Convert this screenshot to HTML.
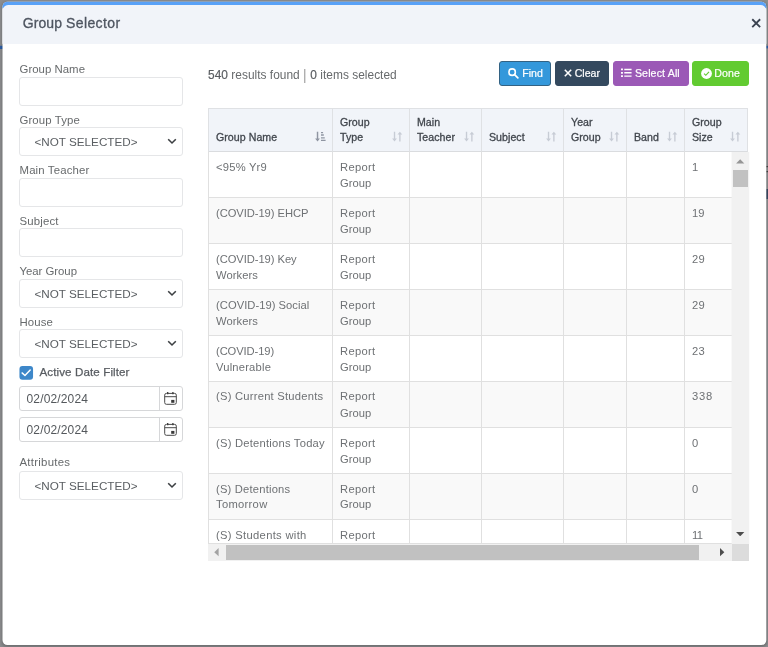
<!DOCTYPE html>
<html lang="en">
<head>
<meta charset="utf-8">
<title>Group Selector</title>
<style>
*{box-sizing:border-box;margin:0;padding:0}
html,body{width:768px;height:647px;overflow:hidden;background:#8c8d8f}
body{font-family:"Liberation Sans",sans-serif;color:#676a6c;position:relative;font-size:11.2px}
div,svg{position:absolute}
.sel span,.date span,.btn span,.hc span{position:absolute}
#title{left:22.8px;top:11px;font-size:14px;line-height:24px;color:#4e5560;letter-spacing:.06px;white-space:nowrap;-webkit-text-stroke:.3px #4e5560}
#close{left:750.5px;top:17.7px;width:10.4px;height:10.4px}
.lbl{left:19.5px;font-size:11.4px;line-height:14px;color:#676a6c;white-space:nowrap}
.inp{left:19px;width:164px;height:29px;border:1px solid #e5e6e8;border-radius:3px;background:#fff}
.sel span{left:14.5px;top:-.5px;line-height:27px;font-size:11.7px;color:#5a5e62;white-space:nowrap}
.chev{right:5.2px;top:10px}
.date{border-color:#d6d7d9;height:25px}
.date span{left:6.5px;top:.8px;line-height:23px;font-size:12px;color:#54585c;white-space:nowrap;letter-spacing:.15px}
.date i{position:absolute;left:139px;top:0;width:1px;height:23px;background:#d6d7d9}
.cal{left:144.2px;top:5.4px}
.btn{top:61px;height:25px;border-radius:3px;color:#fff;font-size:10.6px;line-height:23px;white-space:nowrap;border:1px solid transparent;-webkit-text-stroke:.2px #fff}
.btn span{top:0}
.hc{top:108px;height:44px;background:#f1f4f9;border:1px solid #dfe1e4;border-bottom-color:#dadcdf;border-left:none;color:#41464d;font-size:10.6px;line-height:15px;-webkit-text-stroke:.3px #41464d;letter-spacing:.05px}
.hc span{left:7px;bottom:6.5px;white-space:nowrap}
.sort{bottom:9.2px}
.row{left:209px;width:523px;height:46px;border-bottom:1px solid #e0e0e0;overflow:hidden}
.even{background:#f9f9f9}.odd{background:#fff}
.c{top:0;height:46px;border-right:1px solid #e0e0e0;padding:var(--p) 0 0 7px;font-size:11.2px;line-height:var(--l);color:#6e7174;white-space:nowrap;position:absolute}
.c i{font-style:normal}
</style>
</head>
<body>
<svg id="mbg" width="768" height="647" viewBox="0 0 768 647" style="left:0;top:0"><defs><filter id="sh" x="-5%" y="-5%" width="110%" height="110%"><feGaussianBlur stdDeviation="1.4"/></filter><clipPath id="mc"><rect x="2.5" y="1.8" width="763.8" height="643.3" rx="5" ry="5"/></clipPath></defs><rect x="0" y="45.8" width="3" height="3.2" fill="#2c5ea6"/><rect x="765" y="45.8" width="3" height="2.6" fill="#2c5ea6"/><rect x="766" y="166" width="2" height="1.2" fill="#444"/><rect x="766" y="171" width="2" height="1.2" fill="#444"/><rect x="766" y="189" width="2" height="10" fill="#3b4a63"/><rect x="1.8" y="2" width="765.2" height="645" rx="5" fill="#000" opacity=".22" filter="url(#sh)"/><g clip-path="url(#mc)"><rect x="0" y="0" width="768" height="647" fill="#fff"/><rect x="0" y="0" width="768" height="8.5" fill="#59a1f7"/><rect x="0" y="8.5" width="768" height="35.3" fill="#f1f4f9"/><path d="M2.5 43.8V10.6a5.6 5.6 0 0 1 5.6 -5.6H760.7a5.6 5.6 0 0 1 5.6 5.6V43.8z" fill="#f1f4f9"/></g></svg>
<div id="title">Group <i style="font-style:normal;letter-spacing:.4px">Selector</i></div>
<svg id="close" viewBox="0 0 10 10"><path d="M1.2 1.2L8.8 8.8M8.8 1.2L1.2 8.8" stroke="#3a4250" stroke-width="1.75" fill="none"/></svg>
<div class="lbl" style="top:62px;letter-spacing:0.03px">Group Name</div>
<div class="inp" style="top:77px"></div>
<div class="lbl" style="top:112.5px;letter-spacing:0.1px">Group Type</div>
<div class="inp sel" style="top:127px"><span>&lt;NOT SELECTED&gt;</span><svg class="chev" width="10" height="7" viewBox="0 0 10 7"><path d="M1.2 1.3L5 5L8.8 1.3" stroke="#3c3f42" stroke-width="1.6" fill="none"/></svg></div>
<div class="lbl" style="top:163px;letter-spacing:0.14px">Main Teacher</div>
<div class="inp" style="top:178px"></div>
<div class="lbl" style="top:213.5px;letter-spacing:0.16px">Subject</div>
<div class="inp" style="top:228px"></div>
<div class="lbl" style="top:264px;letter-spacing:-0.04px">Year Group</div>
<div class="inp sel" style="top:279px"><span>&lt;NOT SELECTED&gt;</span><svg class="chev" width="10" height="7" viewBox="0 0 10 7"><path d="M1.2 1.3L5 5L8.8 1.3" stroke="#3c3f42" stroke-width="1.6" fill="none"/></svg></div>
<div class="lbl" style="top:314.5px;letter-spacing:0.1px">House</div>
<div class="inp sel" style="top:329px"><span>&lt;NOT SELECTED&gt;</span><svg class="chev" width="10" height="7" viewBox="0 0 10 7"><path d="M1.2 1.3L5 5L8.8 1.3" stroke="#3c3f42" stroke-width="1.6" fill="none"/></svg></div>
<svg style="left:19px;top:366px" width="15" height="15" viewBox="0 0 15 15"><rect x="0.45" y="0.05" width="13.6" height="13.65" rx="3" fill="#3d87c9"/><path d="M3.1 6.9L5.95 9.5L11.2 4" stroke="#fff" stroke-width="1.45" fill="none" stroke-linecap="round" stroke-linejoin="round"/></svg>
<div class="lbl" style="left:39.5px;top:365.3px;color:#585c61;-webkit-text-stroke:.25px #585c61;font-size:11.6px;letter-spacing:.1px">Active Date Filter</div>
<div class="inp date" style="top:386px"><span>02/02/2024</span><i></i><svg class="cal" width="13" height="13" viewBox="0 0 13 13"><rect x="0.7" y="1.4" width="11.6" height="10.9" rx="1.7" fill="none" stroke="#4a4a4a" stroke-width="1"/><path d="M0.7 4.7h11.6" stroke="#4a4a4a" stroke-width="1"/><path d="M3.7 0.1v2.1M8.9 0.1v2.1" stroke="#3a3a3a" stroke-width="1.3"/><rect x="7.2" y="7.9" width="3.2" height="2.9" fill="#3a3a3a"/></svg></div>
<div class="inp date" style="top:417px"><span>02/02/2024</span><i></i><svg class="cal" width="13" height="13" viewBox="0 0 13 13"><rect x="0.7" y="1.4" width="11.6" height="10.9" rx="1.7" fill="none" stroke="#4a4a4a" stroke-width="1"/><path d="M0.7 4.7h11.6" stroke="#4a4a4a" stroke-width="1"/><path d="M3.7 0.1v2.1M8.9 0.1v2.1" stroke="#3a3a3a" stroke-width="1.3"/><rect x="7.2" y="7.9" width="3.2" height="2.9" fill="#3a3a3a"/></svg></div>
<div class="lbl" style="top:455.2px;letter-spacing:.27px">Attributes</div>
<div class="inp sel" style="top:471px"><span>&lt;NOT SELECTED&gt;</span><svg class="chev" width="10" height="7" viewBox="0 0 10 7"><path d="M1.2 1.3L5 5L8.8 1.3" stroke="#3c3f42" stroke-width="1.6" fill="none"/></svg></div>
<div style="left:208px;top:67px;font-size:11.9px;line-height:16px;white-space:nowrap;color:#676a6c;letter-spacing:.03px"><b style="font-weight:normal;color:#5a5e62;-webkit-text-stroke:.18px #5a5e62">540</b> results found<i style="font-style:normal;color:#8e8e8e;display:inline-block;transform:scaleY(1.22) translateY(-.3px);margin:0 3.9px 0 3.6px;letter-spacing:0">|</i><b style="font-weight:normal;color:#5a5e62;-webkit-text-stroke:.18px #5a5e62">0</b> items selected</div>
<div class="btn" style="left:499px;width:52px;background:#3498db;border-color:#336283"><svg width="10.6" height="10.6" viewBox="0 0 10 10" style="left:8.2px;top:6.4px"><circle cx="3.9" cy="3.9" r="3.05" fill="none" stroke="#fff" stroke-width="1.5"/><path d="M6.2 6.2L9.3 9.3" stroke="#fff" stroke-width="1.6" stroke-linecap="round"/></svg><span style="left:22.2px">Find</span></div>
<div class="btn" style="left:555px;width:54px;background:#34495e;border-color:#34495e"><svg width="8" height="8" viewBox="0 0 8 8" style="left:8px;top:7.3px"><path d="M0.8 0.8L7.2 7.2M7.2 0.8L0.8 7.2" stroke="#fff" stroke-width="1.55" fill="none"/></svg><span style="left:18.7px">Clear</span></div>
<div class="btn" style="left:613px;width:76px;background:#9b59b6;border-color:#9b59b6"><svg width="10.6" height="9.6" viewBox="0 0 11 10" style="left:7.3px;top:6.3px"><path d="M0 1.5h2M0 5h2M0 8.5h2" stroke="#fff" stroke-width="1.8"/><path d="M3.4 1.5H11M3.4 5H11M3.4 8.5H11" stroke="#fff" stroke-width="1.45"/></svg><span style="left:20.9px;letter-spacing:.14px">Select All</span></div>
<div class="btn" style="left:692px;width:57px;background:#62cb31;border-color:#62cb31"><svg width="11" height="11" viewBox="0 0 11 11" style="left:7.6px;top:6.3px"><circle cx="5.5" cy="5.5" r="5.4" fill="#fff"/><path d="M3.1 5.7L4.8 7.3L8 3.9" stroke="#62cb31" stroke-width="1.15" fill="none"/></svg><span style="left:21.3px;letter-spacing:.1px">Done</span></div>
<div style="left:208px;top:108px;width:1px;height:44px;background:#dfe1e4"></div>
<div style="left:208px;top:152px;width:1px;height:392px;background:#e0e0e0"></div>
<div class="hc" style="left:209px;width:124px"><span>Group Name</span><svg class="sort" style="left:106.4px" width="11.55" height="10.5" viewBox="0 0 11 10"><path d="M2.4 0.7V8" stroke="#8f95a2" stroke-width="1.4" fill="none"/><path d="M0.1 7.2h4.6L2.4 9.9z" fill="#8f95a2"/><path d="M5.7 1.5h2M5.7 3.8h2.7M5.7 6.5h3.6M5.7 9h4.4" stroke="#8f95a2" stroke-width="1.25" fill="none"/></svg></div>
<div class="hc" style="left:333px;width:77px"><span>Group<br>Type</span><svg class="sort" style="left:59px" width="10.5" height="10.5" viewBox="0 0 10 10"><path d="M2.4 0.7V8M7.5 9.9V2.6" stroke="#c7ccd5" stroke-width="1.3" fill="none"/><path d="M0.1 7.2h4.6L2.4 9.9zM5.2 3.4h4.6L7.5 0.7z" fill="#c7ccd5"/></svg></div>
<div class="hc" style="left:410px;width:72px"><span>Main<br>Teacher</span><svg class="sort" style="left:54px" width="10.5" height="10.5" viewBox="0 0 10 10"><path d="M2.4 0.7V8M7.5 9.9V2.6" stroke="#c7ccd5" stroke-width="1.3" fill="none"/><path d="M0.1 7.2h4.6L2.4 9.9zM5.2 3.4h4.6L7.5 0.7z" fill="#c7ccd5"/></svg></div>
<div class="hc" style="left:482px;width:82px"><span>Subject</span><svg class="sort" style="left:64px" width="10.5" height="10.5" viewBox="0 0 10 10"><path d="M2.4 0.7V8M7.5 9.9V2.6" stroke="#c7ccd5" stroke-width="1.3" fill="none"/><path d="M0.1 7.2h4.6L2.4 9.9zM5.2 3.4h4.6L7.5 0.7z" fill="#c7ccd5"/></svg></div>
<div class="hc" style="left:564px;width:63px"><span>Year<br>Group</span><svg class="sort" style="left:45px" width="10.5" height="10.5" viewBox="0 0 10 10"><path d="M2.4 0.7V8M7.5 9.9V2.6" stroke="#c7ccd5" stroke-width="1.3" fill="none"/><path d="M0.1 7.2h4.6L2.4 9.9zM5.2 3.4h4.6L7.5 0.7z" fill="#c7ccd5"/></svg></div>
<div class="hc" style="left:627px;width:58px"><span>Band</span><svg class="sort" style="left:40px" width="10.5" height="10.5" viewBox="0 0 10 10"><path d="M2.4 0.7V8M7.5 9.9V2.6" stroke="#c7ccd5" stroke-width="1.3" fill="none"/><path d="M0.1 7.2h4.6L2.4 9.9zM5.2 3.4h4.6L7.5 0.7z" fill="#c7ccd5"/></svg></div>
<div class="hc" style="left:685px;width:63px"><span>Group<br>Size</span><svg class="sort" style="left:45px" width="10.5" height="10.5" viewBox="0 0 10 10"><path d="M2.4 0.7V8M7.5 9.9V2.6" stroke="#c7ccd5" stroke-width="1.3" fill="none"/><path d="M0.1 7.2h4.6L2.4 9.9zM5.2 3.4h4.6L7.5 0.7z" fill="#c7ccd5"/></svg></div>
<div class="row odd" style="top:152px;height:46px;--p:7.4px;--l:16px"><div class="c" style="left:0px;width:124px"><i style="letter-spacing:0.22px">&lt;95% Yr9</i></div><div class="c" style="left:124px;width:77px"><i style="letter-spacing:0.3px">Report</i><br><i style="letter-spacing:0.03px">Group</i></div><div class="c" style="left:201px;width:72px"></div><div class="c" style="left:273px;width:82px"></div><div class="c" style="left:355px;width:63px"></div><div class="c" style="left:418px;width:58px"></div><div class="c" style="left:476px;width:47px;border-right:none"><i style="letter-spacing:0px">1</i></div></div>
<div class="row even" style="top:198px;height:46px;--p:7.4px;--l:16px"><div class="c" style="left:0px;width:124px"><i style="letter-spacing:-0.06px">(COVID-19) EHCP</i></div><div class="c" style="left:124px;width:77px"><i style="letter-spacing:0.3px">Report</i><br><i style="letter-spacing:0.03px">Group</i></div><div class="c" style="left:201px;width:72px"></div><div class="c" style="left:273px;width:82px"></div><div class="c" style="left:355px;width:63px"></div><div class="c" style="left:418px;width:58px"></div><div class="c" style="left:476px;width:47px;border-right:none"><i style="letter-spacing:0px">19</i></div></div>
<div class="row odd" style="top:244px;height:46px;--p:7.4px;--l:16px"><div class="c" style="left:0px;width:124px"><i style="letter-spacing:-0.06px">(COVID-19) Key</i><br><i style="letter-spacing:0.08px">Workers</i></div><div class="c" style="left:124px;width:77px"><i style="letter-spacing:0.3px">Report</i><br><i style="letter-spacing:0.03px">Group</i></div><div class="c" style="left:201px;width:72px"></div><div class="c" style="left:273px;width:82px"></div><div class="c" style="left:355px;width:63px"></div><div class="c" style="left:418px;width:58px"></div><div class="c" style="left:476px;width:47px;border-right:none"><i style="letter-spacing:0.3px">29</i></div></div>
<div class="row even" style="top:290px;height:46px;--p:7.4px;--l:16px"><div class="c" style="left:0px;width:124px"><i style="letter-spacing:0.04px">(COVID-19) Social</i><br><i style="letter-spacing:0.08px">Workers</i></div><div class="c" style="left:124px;width:77px"><i style="letter-spacing:0.3px">Report</i><br><i style="letter-spacing:0.03px">Group</i></div><div class="c" style="left:201px;width:72px"></div><div class="c" style="left:273px;width:82px"></div><div class="c" style="left:355px;width:63px"></div><div class="c" style="left:418px;width:58px"></div><div class="c" style="left:476px;width:47px;border-right:none"><i style="letter-spacing:0.3px">29</i></div></div>
<div class="row odd" style="top:336px;height:46px;--p:7.4px;--l:16px"><div class="c" style="left:0px;width:124px"><i style="letter-spacing:-0.1px">(COVID-19)</i><br><i style="letter-spacing:0.2px">Vulnerable</i></div><div class="c" style="left:124px;width:77px"><i style="letter-spacing:0.3px">Report</i><br><i style="letter-spacing:0.03px">Group</i></div><div class="c" style="left:201px;width:72px"></div><div class="c" style="left:273px;width:82px"></div><div class="c" style="left:355px;width:63px"></div><div class="c" style="left:418px;width:58px"></div><div class="c" style="left:476px;width:47px;border-right:none"><i style="letter-spacing:0.3px">23</i></div></div>
<div class="row even" style="top:382px;height:46px;--p:6.4px;--l:17px"><div class="c" style="left:0px;width:124px"><i style="letter-spacing:0.24px">(S) Current Students</i></div><div class="c" style="left:124px;width:77px"><i style="letter-spacing:0.3px">Report</i><br><i style="letter-spacing:0.03px">Group</i></div><div class="c" style="left:201px;width:72px"></div><div class="c" style="left:273px;width:82px"></div><div class="c" style="left:355px;width:63px"></div><div class="c" style="left:418px;width:58px"></div><div class="c" style="left:476px;width:47px;border-right:none"><i style="letter-spacing:0.8px">338</i></div></div>
<div class="row odd" style="top:428px;height:46px;--p:7.4px;--l:16px"><div class="c" style="left:0px;width:124px"><i style="letter-spacing:0.23px">(S) Detentions Today</i></div><div class="c" style="left:124px;width:77px"><i style="letter-spacing:0.3px">Report</i><br><i style="letter-spacing:0.03px">Group</i></div><div class="c" style="left:201px;width:72px"></div><div class="c" style="left:273px;width:82px"></div><div class="c" style="left:355px;width:63px"></div><div class="c" style="left:418px;width:58px"></div><div class="c" style="left:476px;width:47px;border-right:none"><i style="letter-spacing:0px">0</i></div></div>
<div class="row even" style="top:474px;height:46px;--p:8.4px;--l:15px"><div class="c" style="left:0px;width:124px"><i style="letter-spacing:0.2px">(S) Detentions</i><br><i style="letter-spacing:0.3px">Tomorrow</i></div><div class="c" style="left:124px;width:77px"><i style="letter-spacing:0.3px">Report</i><br><i style="letter-spacing:0.03px">Group</i></div><div class="c" style="left:201px;width:72px"></div><div class="c" style="left:273px;width:82px"></div><div class="c" style="left:355px;width:63px"></div><div class="c" style="left:418px;width:58px"></div><div class="c" style="left:476px;width:47px;border-right:none"><i style="letter-spacing:0px">0</i></div></div>
<div class="row odd" style="top:520px;height:24px;--p:7.4px;--l:16px"><div class="c" style="left:0px;width:124px"><i style="letter-spacing:0.32px">(S) Students with</i></div><div class="c" style="left:124px;width:77px"><i style="letter-spacing:0.3px">Report</i></div><div class="c" style="left:201px;width:72px"></div><div class="c" style="left:273px;width:82px"></div><div class="c" style="left:355px;width:63px"></div><div class="c" style="left:418px;width:58px"></div><div class="c" style="left:476px;width:47px;border-right:none"><i style="letter-spacing:-0.7px">11</i></div></div>
<svg style="left:731px;top:152px" width="19" height="392" viewBox="0 0 19 392"><rect x="0.6" y="0" width="17.6" height="392" fill="#f1f1f1"/></svg>
<div style="left:733px;top:170px;width:15px;height:17px;background:#c1c1c1"></div>
<svg style="left:736.3px;top:159.3px" width="8.4" height="4.6" viewBox="0 0 9 5"><path d="M0 5L4.5 0.3L9 5z" fill="#969696"/></svg>
<svg style="left:736.4px;top:531.7px" width="8.4" height="4.6" viewBox="0 0 9 5"><path d="M0 0L4.5 4.7L9 0z" fill="#4d4d4d"/></svg>
<div style="left:208px;top:544px;width:524px;height:17px;background:#f1f1f1"></div>
<div style="left:226px;top:545px;width:473px;height:15px;background:#c1c1c1"></div>
<svg style="left:214px;top:548.3px" width="4.6" height="8.4" viewBox="0 0 5 9"><path d="M5 0L0.3 4.5L5 9z" fill="#a3a3a3"/></svg>
<svg style="left:720.2px;top:548.3px" width="4.6" height="8.4" viewBox="0 0 5 9"><path d="M0 0L4.7 4.5L0 9z" fill="#4d4d4d"/></svg>
<div style="left:732px;top:544px;width:17px;height:17px;background:#dcdcdc"></div>
</body>
</html>
